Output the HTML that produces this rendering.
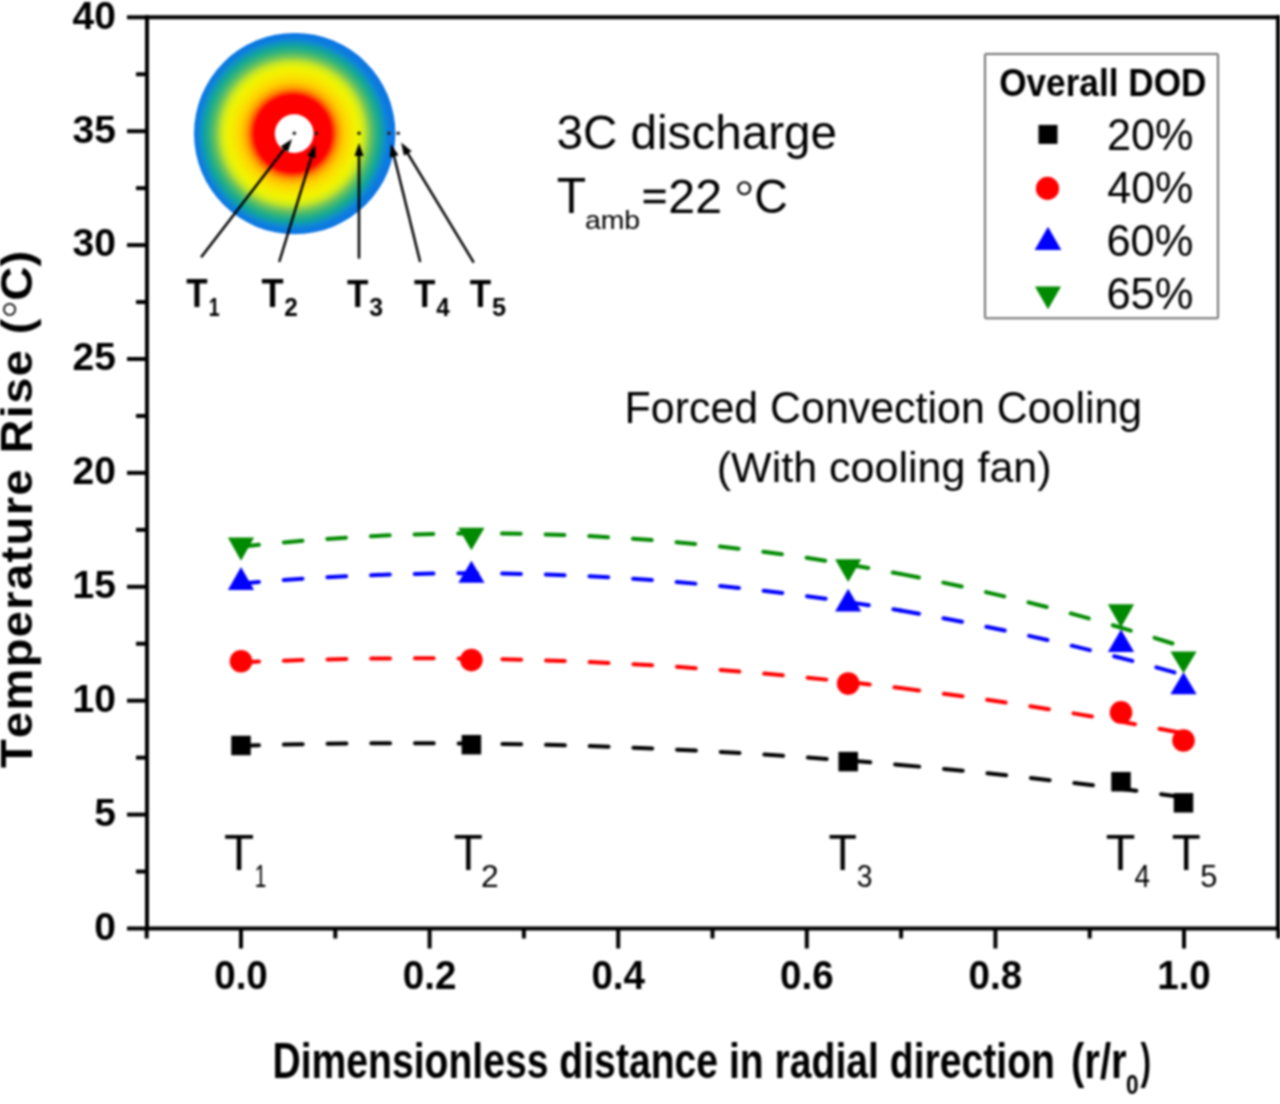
<!DOCTYPE html>
<html><head><meta charset="utf-8"><style>
html,body{margin:0;padding:0;background:#fff;}
svg{display:block;will-change:transform;}
text{font-family:"Liberation Sans",sans-serif;font-kerning:none;}
</style></head><body>
<svg width="1280" height="1104" viewBox="0 0 1280 1104">
<defs><filter id="bl" x="0" y="0" width="1280" height="1104" filterUnits="userSpaceOnUse" color-interpolation-filters="sRGB"><feGaussianBlur stdDeviation="0.8"/></filter></defs>
<rect width="1280" height="1104" fill="#fff"/>
<g filter="url(#bl)">
<defs><radialGradient id="rg" cx="292.80" cy="133.60" r="102.70" gradientUnits="userSpaceOnUse">
<stop offset="0.0000" stop-color="#ff0000"/>
<stop offset="0.3700" stop-color="#ff0000"/>
<stop offset="0.3944" stop-color="#ff3a00"/>
<stop offset="0.4236" stop-color="#ff7800"/>
<stop offset="0.4576" stop-color="#ffaa00"/>
<stop offset="0.5063" stop-color="#ffd000"/>
<stop offset="0.5648" stop-color="#f8e600"/>
<stop offset="0.6232" stop-color="#f2f200"/>
<stop offset="0.6621" stop-color="#e0f010"/>
<stop offset="0.7011" stop-color="#c0e428"/>
<stop offset="0.7400" stop-color="#84cc50"/>
<stop offset="0.7790" stop-color="#50bc68"/>
<stop offset="0.8179" stop-color="#28b085"/>
<stop offset="0.8569" stop-color="#12a49c"/>
<stop offset="0.8958" stop-color="#1090c8"/>
<stop offset="0.9348" stop-color="#0c7ce0"/>
<stop offset="1.0000" stop-color="#0c74e4"/>
</radialGradient></defs>
<circle cx="294.7" cy="133.6" r="100.7" fill="url(#rg)"/>
<circle cx="294.2" cy="133.6" r="19.4" fill="#fff"/>
<circle cx="294.3" cy="133.3" r="1.8" fill="#222"/>
<circle cx="316.4" cy="133.4" r="1.8" fill="#222"/>
<circle cx="359.0" cy="133.3" r="1.8" fill="#222"/>
<circle cx="388.9" cy="133.2" r="1.8" fill="#222"/>
<circle cx="398.2" cy="133.2" r="1.8" fill="#222"/>
<line x1="201.10" y1="257.20" x2="285.39" y2="147.72" stroke="#000" stroke-width="2.5"/>
<polygon points="292.10,139.00 287.74,152.05 280.60,146.56" fill="#000"/>
<line x1="279.20" y1="262.00" x2="311.98" y2="155.02" stroke="#000" stroke-width="2.5"/>
<polygon points="315.20,144.50 315.69,158.25 307.09,155.61" fill="#000"/>
<line x1="359.00" y1="258.60" x2="359.00" y2="154.10" stroke="#000" stroke-width="2.5"/>
<polygon points="359.00,143.10 363.50,156.10 354.50,156.10" fill="#000"/>
<line x1="420.20" y1="262.00" x2="393.64" y2="154.48" stroke="#000" stroke-width="2.5"/>
<polygon points="391.00,143.80 398.49,155.34 389.75,157.50" fill="#000"/>
<line x1="473.80" y1="262.70" x2="406.79" y2="151.81" stroke="#000" stroke-width="2.5"/>
<polygon points="401.10,142.40 411.68,151.20 403.97,155.85" fill="#000"/>
<text transform="translate(186.21,307.10) scale(0.8752,1)" font-size="39.97" font-weight="bold" fill="#000" >T</text>
<text transform="translate(208.77,315.70) scale(0.7559,1)" font-size="25.87" font-weight="bold" fill="#000" >1</text>
<text transform="translate(261.39,307.10) scale(0.9049,1)" font-size="39.97" font-weight="bold" fill="#000" >T</text>
<text transform="translate(284.26,315.90) scale(0.9696,1)" font-size="25.06" font-weight="bold" fill="#000" >2</text>
<text transform="translate(346.91,307.20) scale(0.8848,1)" font-size="39.54" font-weight="bold" fill="#000" >T</text>
<text transform="translate(369.33,316.21) scale(0.9439,1)" font-size="26.22" font-weight="bold" fill="#000" >3</text>
<text transform="translate(414.01,307.20) scale(0.8848,1)" font-size="39.54" font-weight="bold" fill="#000" >T</text>
<text transform="translate(436.34,315.80) scale(0.9256,1)" font-size="26.02" font-weight="bold" fill="#000" >4</text>
<text transform="translate(469.71,307.20) scale(0.8848,1)" font-size="39.54" font-weight="bold" fill="#000" >T</text>
<text transform="translate(491.92,316.25) scale(0.9871,1)" font-size="25.65" font-weight="bold" fill="#000" >5</text>
<g stroke="#000" stroke-width="4" fill="none" stroke-linecap="butt">
<line x1="147" y1="15" x2="147" y2="930.5"/>
<line x1="145" y1="928.5" x2="1280" y2="928.5"/>
<line x1="145" y1="17.3" x2="1280" y2="17.3"/>
<line x1="1278" y1="15" x2="1278" y2="930.5"/>
<line x1="127" y1="928.50" x2="147" y2="928.50"/>
<line x1="136" y1="871.55" x2="147" y2="871.55"/>
<line x1="127" y1="814.60" x2="147" y2="814.60"/>
<line x1="136" y1="757.65" x2="147" y2="757.65"/>
<line x1="127" y1="700.70" x2="147" y2="700.70"/>
<line x1="136" y1="643.75" x2="147" y2="643.75"/>
<line x1="127" y1="586.80" x2="147" y2="586.80"/>
<line x1="136" y1="529.85" x2="147" y2="529.85"/>
<line x1="127" y1="472.90" x2="147" y2="472.90"/>
<line x1="136" y1="415.95" x2="147" y2="415.95"/>
<line x1="127" y1="359.00" x2="147" y2="359.00"/>
<line x1="136" y1="302.05" x2="147" y2="302.05"/>
<line x1="127" y1="245.10" x2="147" y2="245.10"/>
<line x1="136" y1="188.15" x2="147" y2="188.15"/>
<line x1="127" y1="131.20" x2="147" y2="131.20"/>
<line x1="136" y1="74.25" x2="147" y2="74.25"/>
<line x1="127" y1="17.30" x2="147" y2="17.30"/>
<line x1="146.70" y1="928.5" x2="146.70" y2="938.5"/>
<line x1="241.00" y1="928.5" x2="241.00" y2="948.5"/>
<line x1="335.30" y1="928.5" x2="335.30" y2="938.5"/>
<line x1="429.60" y1="928.5" x2="429.60" y2="948.5"/>
<line x1="523.90" y1="928.5" x2="523.90" y2="938.5"/>
<line x1="618.20" y1="928.5" x2="618.20" y2="948.5"/>
<line x1="712.50" y1="928.5" x2="712.50" y2="938.5"/>
<line x1="806.80" y1="928.5" x2="806.80" y2="948.5"/>
<line x1="901.10" y1="928.5" x2="901.10" y2="938.5"/>
<line x1="995.40" y1="928.5" x2="995.40" y2="948.5"/>
<line x1="1089.70" y1="928.5" x2="1089.70" y2="938.5"/>
<line x1="1184.00" y1="928.5" x2="1184.00" y2="948.5"/>
<line x1="1278.30" y1="928.5" x2="1278.30" y2="938.5"/>
</g>
<text transform="translate(116.00,939.80) scale(1.0000,1)" font-size="39" font-weight="bold" text-anchor="end">0</text>
<text transform="translate(116.00,825.90) scale(1.0000,1)" font-size="39" font-weight="bold" text-anchor="end">5</text>
<text transform="translate(116.00,712.00) scale(1.0000,1)" font-size="39" font-weight="bold" text-anchor="end">10</text>
<text transform="translate(116.00,598.10) scale(1.0000,1)" font-size="39" font-weight="bold" text-anchor="end">15</text>
<text transform="translate(116.00,484.20) scale(1.0000,1)" font-size="39" font-weight="bold" text-anchor="end">20</text>
<text transform="translate(116.00,370.30) scale(1.0000,1)" font-size="39" font-weight="bold" text-anchor="end">25</text>
<text transform="translate(116.00,256.40) scale(1.0000,1)" font-size="39" font-weight="bold" text-anchor="end">30</text>
<text transform="translate(116.00,142.50) scale(1.0000,1)" font-size="39" font-weight="bold" text-anchor="end">35</text>
<text transform="translate(116.00,28.60) scale(1.0000,1)" font-size="39" font-weight="bold" text-anchor="end">40</text>
<text transform="translate(241.00,988.90) scale(0.9650,1)" font-size="40" font-weight="bold" text-anchor="middle">0.0</text>
<text transform="translate(429.60,988.90) scale(0.9650,1)" font-size="40" font-weight="bold" text-anchor="middle">0.2</text>
<text transform="translate(618.20,988.90) scale(0.9650,1)" font-size="40" font-weight="bold" text-anchor="middle">0.4</text>
<text transform="translate(806.80,988.90) scale(0.9650,1)" font-size="40" font-weight="bold" text-anchor="middle">0.6</text>
<text transform="translate(995.40,988.90) scale(0.9650,1)" font-size="40" font-weight="bold" text-anchor="middle">0.8</text>
<text transform="translate(1184.00,988.90) scale(0.9650,1)" font-size="40" font-weight="bold" text-anchor="middle">1.0</text>
<path d="M241.00,745.74 Q570.75,735.71 900.50,764.94" stroke="#000000" stroke-width="4" stroke-linecap="round" fill="none" stroke-dasharray="18.8 24.9" stroke-dashoffset="0.8"/>
<path d="M900.50,764.94 Q1042.25,777.50 1184.00,797.32" stroke="#000000" stroke-width="4" stroke-linecap="round" fill="none" stroke-dasharray="18.8 24.9" stroke-dashoffset="0.0"/>
<path d="M241.00,662.40 Q570.75,647.30 900.50,688.10" stroke="#ff0000" stroke-width="4" stroke-linecap="round" fill="none" stroke-dasharray="18.8 24.9" stroke-dashoffset="0.8"/>
<path d="M900.50,688.10 Q1042.25,705.65 1184.00,733.52" stroke="#ff0000" stroke-width="4" stroke-linecap="round" fill="none" stroke-dasharray="18.8 24.9" stroke-dashoffset="0.0"/>
<path d="M241.00,583.53 Q570.75,553.89 900.50,610.49" stroke="#0000ff" stroke-width="4" stroke-linecap="round" fill="none" stroke-dasharray="18.8 24.9" stroke-dashoffset="0.8"/>
<path d="M900.50,610.49 Q1042.25,634.82 1184.00,675.09" stroke="#0000ff" stroke-width="4" stroke-linecap="round" fill="none" stroke-dasharray="18.8 24.9" stroke-dashoffset="0.0"/>
<path d="M241.00,546.74 Q570.75,510.23 900.50,573.90" stroke="#008a00" stroke-width="4" stroke-linecap="round" fill="none" stroke-dasharray="18.8 24.9" stroke-dashoffset="0.8"/>
<path d="M900.50,573.90 Q1042.25,601.28 1184.00,647.16" stroke="#008a00" stroke-width="4" stroke-linecap="round" fill="none" stroke-dasharray="18.8 24.9" stroke-dashoffset="0.0"/>
<rect x="231.25" y="735.75" width="19.5" height="19.5" fill="#000"/>
<rect x="461.65" y="734.95" width="19.5" height="19.5" fill="#000"/>
<rect x="838.45" y="751.85" width="19.5" height="19.5" fill="#000"/>
<rect x="1111.25" y="771.95" width="19.5" height="19.5" fill="#000"/>
<rect x="1173.75" y="793.05" width="19.5" height="19.5" fill="#000"/>
<circle cx="241.00" cy="661.20" r="11.30" fill="#ff0000"/>
<circle cx="471.40" cy="660.10" r="11.30" fill="#ff0000"/>
<circle cx="848.20" cy="683.60" r="11.30" fill="#ff0000"/>
<circle cx="1121.00" cy="712.40" r="11.30" fill="#ff0000"/>
<circle cx="1183.50" cy="740.50" r="11.30" fill="#ff0000"/>
<polygon points="241.00,567.00 254.10,589.90 227.90,589.90" fill="#0000ff"/>
<polygon points="471.40,560.80 484.50,582.80 458.30,582.80" fill="#0000ff"/>
<polygon points="848.20,588.70 861.30,611.40 835.10,611.40" fill="#0000ff"/>
<polygon points="1121.00,629.60 1134.10,652.00 1107.90,652.00" fill="#0000ff"/>
<polygon points="1183.50,672.30 1196.60,694.20 1170.40,694.20" fill="#0000ff"/>
<polygon points="227.90,537.60 254.10,537.60 241.00,560.80" fill="#008a00"/>
<polygon points="458.30,527.80 484.50,527.80 471.40,550.20" fill="#008a00"/>
<polygon points="835.10,559.30 861.30,559.30 848.20,582.00" fill="#008a00"/>
<polygon points="1107.90,604.20 1134.10,604.20 1121.00,627.50" fill="#008a00"/>
<polygon points="1170.40,651.50 1196.60,651.50 1183.50,673.30" fill="#008a00"/>
<rect x="985" y="54" width="233" height="264.3" rx="1.2" fill="#fff" stroke="#707070" stroke-width="2"/>
<text transform="translate(999.16,95.51) scale(0.8912,1)" font-size="39.49" font-weight="bold" fill="#000" >Overall DOD</text>
<rect x="1038.50" y="124.90" width="19" height="19" fill="#000"/>
<circle cx="1047.50" cy="188.40" r="11.60" fill="#ff0000"/>
<polygon points="1048.00,226.80 1061.30,250.00 1034.70,250.00" fill="#0000ff"/>
<polygon points="1034.95,286.60 1061.05,286.60 1048.00,309.30" fill="#008a00"/>
<text transform="translate(1106.93,149.90) scale(0.9714,1)" font-size="44.50" font-weight="normal" fill="#000" >20%</text>
<text transform="translate(1107.21,202.80) scale(0.9681,1)" font-size="44.50" font-weight="normal" fill="#000" >40%</text>
<text transform="translate(1106.39,256.00) scale(0.9775,1)" font-size="44.50" font-weight="normal" fill="#000" >60%</text>
<text transform="translate(1106.39,309.20) scale(0.9775,1)" font-size="44.50" font-weight="normal" fill="#000" >65%</text>
<text transform="translate(556.39,149.00) scale(0.9783,1)" font-size="48.70" font-weight="normal" fill="#000" >3C discharge</text>
<text transform="translate(556.72,213.30) scale(0.9621,1)" font-size="50.00" font-weight="normal" fill="#000" >T</text>
<text transform="translate(584.89,229.20) scale(1.0627,1)" font-size="26.70" font-weight="normal" fill="#000" >amb</text>
<rect x="643.7" y="189.6" width="21.8" height="3.6" fill="#000"/>
<rect x="643.7" y="199.8" width="21.8" height="3.5" fill="#000"/>
<text transform="translate(668.37,213.30) scale(0.9864,1)" font-size="49.00" font-weight="normal" fill="#000" >22</text>
<circle cx="744.25" cy="188.25" r="6.0" fill="none" stroke="#000" stroke-width="2.2"/>
<text transform="translate(754.13,213.02) scale(0.9559,1)" font-size="48.73" font-weight="normal" fill="#000" >C</text>
<text transform="translate(624.58,423.30) scale(0.9846,1)" font-size="43.60" font-weight="normal" fill="#000" >Forced Convection Cooling</text>
<text transform="translate(716.73,481.70) scale(1.0084,1)" font-size="42.70" font-weight="normal" fill="#000" >(With cooling fan)</text>
<text transform="translate(223.99,870.20) scale(0.9926,1)" font-size="49.71" font-weight="normal" fill="#000" >T</text>
<text transform="translate(254.63,886.60) scale(0.6768,1)" font-size="30.50" font-weight="normal" fill="#000" >1</text>
<text transform="translate(453.83,870.20) scale(0.9606,1)" font-size="49.71" font-weight="normal" fill="#000" >T</text>
<text transform="translate(481.00,886.60) scale(1.0436,1)" font-size="30.50" font-weight="normal" fill="#000" >2</text>
<text transform="translate(828.56,870.20) scale(0.9357,1)" font-size="49.71" font-weight="normal" fill="#000" >T</text>
<text transform="translate(856.72,886.60) scale(0.9266,1)" font-size="30.50" font-weight="normal" fill="#000" >3</text>
<text transform="translate(1105.71,870.20) scale(0.9748,1)" font-size="49.71" font-weight="normal" fill="#000" >T</text>
<text transform="translate(1134.56,886.60) scale(0.9174,1)" font-size="30.50" font-weight="normal" fill="#000" >4</text>
<text transform="translate(1171.74,870.20) scale(0.9535,1)" font-size="49.71" font-weight="normal" fill="#000" >T</text>
<text transform="translate(1200.37,886.60) scale(1.0096,1)" font-size="30.50" font-weight="normal" fill="#000" >5</text>
<text transform="translate(272.38,1078.30) scale(0.7733,1)" font-size="50.60" font-weight="bold" fill="#000" >Dimensionless distance in radial direction</text>
<text transform="translate(1071.01,1078.30) scale(0.7910,1)" font-size="50.60" font-weight="bold" fill="#000" >(r/r</text>
<text transform="translate(1126.00,1094.42) scale(0.7959,1)" font-size="28.53" font-weight="bold" fill="#000" >0</text>
<text transform="translate(1140.47,1078.30) scale(0.6232,1)" font-size="50.60" font-weight="bold" fill="#000" >)</text>
<g transform="rotate(-90)">
<text transform="translate(-768.08,31.7) scale(1.072,1)" font-size="43.8" font-weight="bold" letter-spacing="1.33">Temperature Rise (</text>
<text transform="translate(-300.74,31.70) scale(1.0819,1)" font-size="43.80" font-weight="bold" fill="#000" >C)</text>
</g>
<circle cx="9.6" cy="309.4" r="5.6" fill="none" stroke="#000" stroke-width="1.7"/>
</g>
</svg></body></html>
